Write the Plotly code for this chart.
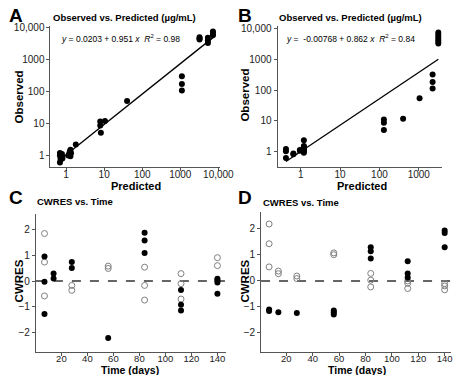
import numpy as np
import plotly.graph_objects as go

# ---- Data ----
A_pred = [0.69, 0.69, 0.69, 0.72, 0.72, 0.78, 0.8, 0.8, 1.15, 1.2, 1.25, 1.3, 1.3, 1.35, 1.8,
          7.9, 7.9, 8.2, 10.5, 40, 1100, 1100, 1100, 3200, 3200, 3200, 5300, 5300, 5300, 7200, 7200, 7200]
A_obs = [1.2, 1.0, 0.6, 0.85, 0.75, 1.1, 0.9, 0.8, 1.0, 1.1, 1.3, 0.95, 1.5, 1.2, 2.2,
         11.5, 8.7, 5.1, 12, 51, 300, 172, 108, 5000, 4600, 4300, 3300, 4000, 4800, 7600, 6600, 5800]
A_coef = (0.0203, 0.951)

B_pred = [0.42, 0.42, 0.42, 0.65, 0.65, 0.95, 0.95, 1.2, 1.2, 1.2, 1.2, 1.2, 1.2, 1.2, 1.2,
          130, 130, 130, 400, 1050, 2250, 2250, 2250, 3150, 3150, 3150, 3150, 3150, 3150, 3150]
B_obs = [1.2, 1.0, 0.6, 0.85, 0.8, 1.05, 1.1, 2.3, 1.5, 1.3, 1.2, 1.0, 0.9, 1.4, 1.1,
         11, 8.5, 5, 11.5, 54, 320, 185, 112, 7600, 6500, 5600, 4800, 4200, 3700, 3300]
B_coef = (-0.00768, 0.862)

C_open_t = [7, 7, 7, 28, 28, 56, 56, 84, 84, 84, 112, 112, 112, 140, 140]
C_open_r = [1.85, 0.74, -0.58, -0.17, -0.36, 0.58, 0.49, 0.54, -0.17, -0.74, 0.29, -0.1, -0.7, 0.91, 0.6]
C_fill_t = [7, 7, 7, 14, 14, 28, 28, 56, 84, 84, 84, 112, 112, 112, 140, 140, 140, 140]
C_fill_r = [0.96, -0.03, -1.28, 0.29, 0.1, 0.74, 0.51, -2.22, 1.88, 1.58, 1.09, -0.35, -0.92, -1.15, 0.09, 0.03, -0.06, -0.49]

D_open_t = [7, 7, 7, 14, 14, 28, 28, 56, 56, 84, 84, 84, 112, 112, 112, 140, 140, 140]
D_open_r = [2.19, 1.43, 0.54, 0.38, 0.28, 0.19, 0.09, 1.08, 1.01, 0.29, 0.03, -0.23, 0.0, -0.09, -0.29, -0.1, -0.19, -0.34]
D_fill_t = [7, 7, 14, 28, 56, 56, 56, 84, 84, 84, 112, 112, 112, 140, 140, 140]
D_fill_r = [-1.1, -1.15, -1.2, -1.23, -1.14, -1.2, -1.29, 1.3, 1.14, 0.86, 0.76, 0.29, 0.13, 1.94, 1.84, 1.3]

log_ticks = [1, 10, 100, 1000, 10000]
log_labels = ["1", "10", "100", "1000", "10,000"]
time_ticks = [20, 40, 60, 80, 100, 120, 140]
cw_ticks = [-2, -1, 0, 1, 2]

W, H = 474, 375
def dx(a, b): return [a / W, b / W]
def dy(top, bot): return [1 - bot / H, 1 - top / H]

fig = go.Figure()
FONT = "Liberation Sans, Arial, sans-serif"
fill_m = dict(color="black", size=6)
open_m = dict(color="#808080", size=6, symbol="circle-open", line=dict(width=1))

def fitline(xs, coef):
    lx = np.log10([min(xs), max(xs)])
    ly = coef[0] + coef[1] * lx
    return (10 ** lx).tolist(), (10 ** ly).tolist()

# A
fig.add_trace(go.Scatter(x=A_pred, y=A_obs, mode="markers", marker=fill_m, xaxis="x", yaxis="y"))
lx, ly = fitline(A_pred, A_coef)
fig.add_trace(go.Scatter(x=lx, y=ly, mode="lines", line=dict(color="black", width=1.3), xaxis="x", yaxis="y"))
# B
fig.add_trace(go.Scatter(x=B_pred, y=B_obs, mode="markers", marker=fill_m, xaxis="x2", yaxis="y2"))
lx, ly = fitline(B_pred, B_coef)
fig.add_trace(go.Scatter(x=lx, y=ly, mode="lines", line=dict(color="black", width=1.3), xaxis="x2", yaxis="y2"))
# C
fig.add_trace(go.Scatter(x=C_open_t, y=C_open_r, mode="markers", marker=open_m, xaxis="x3", yaxis="y3"))
fig.add_trace(go.Scatter(x=C_fill_t, y=C_fill_r, mode="markers", marker=fill_m, xaxis="x3", yaxis="y3"))
# D
fig.add_trace(go.Scatter(x=D_open_t, y=D_open_r, mode="markers", marker=open_m, xaxis="x4", yaxis="y4"))
fig.add_trace(go.Scatter(x=D_fill_t, y=D_fill_r, mode="markers", marker=fill_m, xaxis="x4", yaxis="y4"))

for xa, ya in [("x3", "y3"), ("x4", "y4")]:
    fig.add_shape(type="line", xref=xa + " domain", yref=ya, x0=0, x1=1, y0=0, y1=0,
                  line=dict(color="#333333", width=1.6, dash="dash"), layer="below")

ax_common = dict(showgrid=False, zeroline=False, showline=True, linecolor="#555555", linewidth=1,
                 ticks="outside", ticklen=3, tickcolor="#555555",
                 tickfont=dict(size=10, color="#222222", family=FONT))
ax_time = dict(ax_common, tickfont=dict(size=9.5, color="#222222", family=FONT))

fig.update_layout(
    width=W, height=H, margin=dict(l=0, r=0, t=0, b=0),
    paper_bgcolor="white", plot_bgcolor="white", showlegend=False,
    font=dict(family=FONT),
    xaxis=dict(**ax_common, type="log", domain=dx(52, 227), range=[-0.41, 4.05], anchor="y",
               tickvals=log_ticks, ticktext=log_labels, ticklabelstandoff=-5),
    yaxis=dict(**ax_common, type="log", domain=dy(22, 165), range=[-0.37, 4.06], anchor="x",
               tickvals=log_ticks, ticktext=log_labels),
    xaxis2=dict(**ax_common, type="log", domain=dx(286, 455), range=[-0.59, 3.58], anchor="y2",
                tickvals=log_ticks[:4], ticktext=log_labels[:4], ticklabelstandoff=-5),
    yaxis2=dict(**ax_common, type="log", domain=dy(22, 165), range=[-0.52, 4.1], anchor="x2",
                tickvals=log_ticks, ticktext=log_labels),
    xaxis3=dict(**ax_time, domain=dx(37, 233), range=[0.4, 146.7], anchor="y3",
                tickvals=time_ticks, ticklabelstandoff=-6),
    yaxis3=dict(**ax_common, domain=dy(212, 352), range=[-2.77, 2.62], anchor="x3",
                tickvals=cw_ticks),
    xaxis4=dict(**ax_time, domain=dx(269, 465), range=[0.9, 145], anchor="y4",
                tickvals=time_ticks, ticklabelstandoff=-6),
    yaxis4=dict(**ax_common, domain=dy(210, 352), range=[-2.74, 2.66], anchor="x4",
                tickvals=cw_ticks),
)

def txt(x, y, s, size, bold=False, anchor="left", angle=0):
    fig.add_annotation(xref="paper", yref="paper", x=x / W, y=1 - y / H,
                       text=("<b>%s</b>" % s) if bold else s,
                       showarrow=False, xanchor=anchor, yanchor="middle", textangle=angle,
                       borderpad=0, font=dict(size=size, color="black", family=FONT))

# panel letters & titles
txt(8, 12, "A", 19, True)
txt(244, 12, "B", 19, True)
txt(8, 196, "C", 19, True)
txt(244, 196, "D", 19, True)
txt(54, 14, "Observed vs. Predicted (µg/mL)", 9.5, True)
txt(286, 14, "Observed vs. Predicted (µg/mL)", 9.5, True)
txt(37, 200, "CWRES vs. Time", 9.5, True)
txt(270, 201, "CWRES vs. Time", 9.5, True)
txt(62, 35, "<i>y</i> = 0.0203 + 0.951 <i>x</i>  <i>R</i><sup>2</sup> = 0.98", 8.5)
txt(294, 35, "<i>y</i> =  -0.00768 + 0.862 <i>x</i>  <i>R</i><sup>2</sup> = 0.84", 8.5)
# axis titles
txt(140, 184, "Predicted", 11, True, "center")
txt(373, 184, "Predicted", 11, True, "center")
txt(20, 94, "Observed", 11.5, True, "center", -90)
txt(252, 92, "Observed", 11.5, True, "center", -90)
txt(134, 369.5, "Time (days)", 10.5, True, "center")
txt(368, 369.5, "Time (days)", 10.5, True, "center")
txt(20, 280, "CWRES", 11.5, True, "center", -90)
txt(252, 280, "CWRES", 11.5, True, "center", -90)

fig.write_html("out.html", config={"displayModeBar": False},
               post_script="document.body.style.margin='0';document.body.style.padding='0';")
